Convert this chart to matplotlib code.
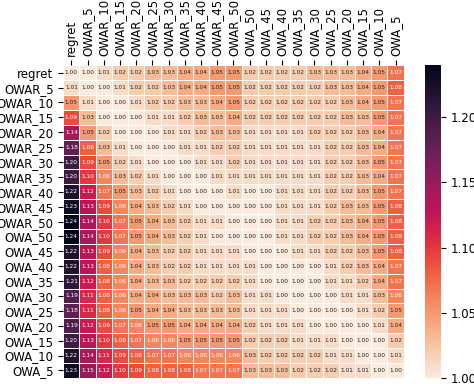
import numpy as np
import matplotlib
matplotlib.use("Agg")
import matplotlib.pyplot as plt
from matplotlib.colors import LinearSegmentedColormap, to_rgb

labels = ["regret"] + [f"OWAR_{k}" for k in range(5, 55, 5)] + [f"OWA_{k}" for k in range(50, 0, -5)]

r_regret = [1.00, 1.00, 1.01, 1.02, 1.02, 1.03, 1.03, 1.04, 1.04, 1.05, 1.05, 1.02, 1.02, 1.02, 1.02, 1.03, 1.03, 1.03, 1.04, 1.05, 1.07]
r_owar5 = [1.01, 1.00, 1.00, 1.01, 1.02, 1.02, 1.03, 1.04, 1.04, 1.05, 1.05, 1.02, 1.02, 1.02, 1.02, 1.02, 1.03, 1.03, 1.04, 1.05, 1.08]
r_owar10 = [1.05, 1.01, 1.00, 1.00, 1.01, 1.02, 1.02, 1.03, 1.03, 1.04, 1.05, 1.02, 1.02, 1.02, 1.02, 1.02, 1.02, 1.03, 1.04, 1.05, 1.07]
r_owar15 = [1.09, 1.03, 1.00, 1.00, 1.00, 1.01, 1.01, 1.02, 1.03, 1.03, 1.04, 1.02, 1.02, 1.02, 1.02, 1.02, 1.02, 1.03, 1.03, 1.05, 1.07]
r_owar20 = [1.14, 1.05, 1.02, 1.00, 1.00, 1.00, 1.01, 1.01, 1.02, 1.03, 1.03, 1.01, 1.01, 1.01, 1.01, 1.02, 1.02, 1.02, 1.03, 1.04, 1.07]
r_owar25 = [1.18, 1.08, 1.03, 1.01, 1.00, 1.00, 1.00, 1.01, 1.01, 1.02, 1.02, 1.01, 1.01, 1.01, 1.01, 1.01, 1.02, 1.02, 1.03, 1.04, 1.07]
r_owar30 = [1.20, 1.09, 1.05, 1.02, 1.01, 1.00, 1.00, 1.00, 1.01, 1.01, 1.02, 1.01, 1.01, 1.01, 1.01, 1.01, 1.02, 1.02, 1.03, 1.05, 1.07]
r_owar35 = [1.20, 1.10, 1.06, 1.03, 1.02, 1.01, 1.00, 1.00, 1.00, 1.01, 1.01, 1.01, 1.01, 1.01, 1.01, 1.01, 1.02, 1.02, 1.03, 1.04, 1.07]
r_owar40 = [1.22, 1.12, 1.07, 1.05, 1.03, 1.02, 1.01, 1.00, 1.00, 1.00, 1.01, 1.00, 1.00, 1.01, 1.01, 1.01, 1.02, 1.02, 1.03, 1.05, 1.07]
r_owar45 = [1.23, 1.13, 1.09, 1.06, 1.04, 1.03, 1.02, 1.01, 1.00, 1.00, 1.00, 1.00, 1.00, 1.01, 1.01, 1.01, 1.02, 1.03, 1.03, 1.05, 1.08]
r_owar50 = [1.24, 1.14, 1.10, 1.07, 1.05, 1.04, 1.03, 1.02, 1.01, 1.01, 1.00, 1.00, 1.00, 1.01, 1.01, 1.02, 1.02, 1.03, 1.04, 1.05, 1.08]
r_owa50 = [1.24, 1.14, 1.10, 1.07, 1.05, 1.04, 1.03, 1.02, 1.01, 1.00, 1.00, 1.00, 1.00, 1.01, 1.01, 1.02, 1.02, 1.03, 1.04, 1.05, 1.08]
r_owa45 = [1.22, 1.13, 1.09, 1.06, 1.04, 1.03, 1.02, 1.02, 1.01, 1.01, 1.01, 1.00, 1.00, 1.00, 1.01, 1.01, 1.02, 1.02, 1.03, 1.05, 1.08]
r_owa40 = [1.22, 1.13, 1.08, 1.06, 1.04, 1.03, 1.02, 1.02, 1.01, 1.01, 1.01, 1.01, 1.00, 1.00, 1.00, 1.00, 1.01, 1.02, 1.03, 1.04, 1.07]
r_owa35 = [1.21, 1.12, 1.08, 1.06, 1.04, 1.03, 1.03, 1.02, 1.02, 1.02, 1.02, 1.01, 1.00, 1.00, 1.00, 1.00, 1.01, 1.01, 1.02, 1.04, 1.07]
r_owa30 = [1.19, 1.11, 1.08, 1.06, 1.04, 1.04, 1.03, 1.03, 1.03, 1.02, 1.03, 1.01, 1.01, 1.00, 1.00, 1.00, 1.00, 1.01, 1.01, 1.03, 1.06]
r_owa25 = [1.18, 1.11, 1.08, 1.06, 1.05, 1.04, 1.04, 1.03, 1.03, 1.03, 1.03, 1.01, 1.01, 1.01, 1.00, 1.00, 1.00, 1.00, 1.01, 1.02, 1.05]
r_owa20 = [1.19, 1.12, 1.09, 1.07, 1.06, 1.05, 1.05, 1.04, 1.04, 1.04, 1.04, 1.02, 1.01, 1.01, 1.01, 1.00, 1.00, 1.00, 1.00, 1.01, 1.04]
r_owa15 = [1.20, 1.13, 1.10, 1.08, 1.07, 1.06, 1.06, 1.05, 1.05, 1.05, 1.05, 1.02, 1.02, 1.02, 1.01, 1.01, 1.01, 1.00, 1.00, 1.00, 1.02]
r_owa10 = [1.22, 1.14, 1.11, 1.09, 1.08, 1.07, 1.07, 1.06, 1.06, 1.06, 1.06, 1.03, 1.02, 1.02, 1.02, 1.02, 1.01, 1.01, 1.00, 1.00, 1.01]
r_owa5 = [1.23, 1.15, 1.12, 1.10, 1.09, 1.08, 1.08, 1.08, 1.07, 1.07, 1.07, 1.03, 1.03, 1.03, 1.02, 1.02, 1.02, 1.01, 1.01, 1.00, 1.00]

data = np.array([r_regret, r_owar5, r_owar10, r_owar15, r_owar20, r_owar25, r_owar30,
                 r_owar35, r_owar40, r_owar45, r_owar50, r_owa50, r_owa45, r_owa40,
                 r_owa35, r_owa30, r_owa25, r_owa20, r_owa15, r_owa10, r_owa5])

try:
    import seaborn as sns
    cmap = sns.color_palette("rocket_r", as_cmap=True)
except ImportError:
    rocket = [(0.98, 0.92, 0.87), (0.96, 0.62, 0.48), (0.95, 0.42, 0.31), (0.89, 0.24, 0.26),
              (0.78, 0.13, 0.31), (0.64, 0.10, 0.35), (0.50, 0.11, 0.35), (0.36, 0.11, 0.30),
              (0.23, 0.09, 0.24), (0.11, 0.063, 0.16), (0.012, 0.011, 0.051)]
    cmap = LinearSegmentedColormap.from_list("rocket_r", rocket)

fig = plt.figure(figsize=(4.74, 3.84), dpi=100)
ax = fig.add_axes([0.1335, 0.016, 0.718, 0.814])
cax = fig.add_axes([0.897, 0.016, 0.034, 0.814])

vmin, vmax = data.min(), data.max()
mesh = ax.pcolormesh(data, cmap=cmap, vmin=vmin, vmax=vmax, edgecolors="white", linewidth=0.5)
ax.set_xlim(0, len(labels))
ax.set_ylim(len(labels), 0)

def lum(c):
    rgb = np.array(to_rgb(c))
    rgb = np.where(rgb <= 0.03928, rgb / 12.92, ((rgb + 0.055) / 1.055) ** 2.4)
    return 0.2126 * rgb[0] + 0.7152 * rgb[1] + 0.0722 * rgb[2]

for i in range(data.shape[0]):
    for j in range(data.shape[1]):
        c = cmap((data[i, j] - vmin) / (vmax - vmin))
        tc = "0.15" if lum(c) > 0.408 else "w"
        ax.text(j + 0.5, i + 0.5, f"{data[i, j]:.2f}", ha="center", va="center", fontsize=4.2, color=tc)

ax.set_xticks(np.arange(len(labels)) + 0.5)
ax.set_yticks(np.arange(len(labels)) + 0.5)
ax.set_xticklabels(labels, rotation=90, fontsize=8.5)
ax.set_yticklabels(labels, fontsize=8.5)
ax.xaxis.tick_top()
for s in ax.spines.values():
    s.set_visible(False)

cb = fig.colorbar(mesh, cax=cax)
cb.outline.set_visible(False)
cb.set_ticks([1.00, 1.05, 1.10, 1.15, 1.20])
cb.ax.set_yticklabels(["1.00", "1.05", "1.10", "1.15", "1.20"], fontsize=8.5)

fig.savefig("out.png", dpi=100)
